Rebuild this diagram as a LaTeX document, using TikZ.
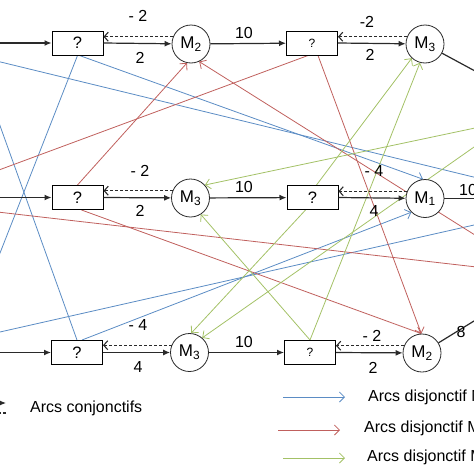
\documentclass[tikz,border=0pt]{standalone}
\usepackage{fontspec}
\setmainfont{Liberation Sans}
\usetikzlibrary{arrows.meta,backgrounds}
\definecolor{cblue}{HTML}{5B8CC4}
\definecolor{cred}{HTML}{C0605D}
\definecolor{cgreen}{HTML}{A3C166}
\definecolor{cline}{HTML}{2A2A2A}
\begin{document}
\begin{tikzpicture}[x=1pt,y=-1pt,
  op/.style={draw=black, line width=1pt, fill=white, minimum width=51pt, minimum height=24pt, inner sep=0pt, font=\fontsize{16.5}{16.5}\selectfont},
  opsmall/.style={op, font=\fontsize{12}{12}\selectfont},
  mach/.style={circle, draw=cline, line width=0.8pt, fill=white, minimum size=38pt, inner sep=0pt, font=\fontsize{17}{17}\selectfont},
  conj/.style={draw=cline, line width=1.2pt, -{Latex[length=7pt,width=6pt]}},
  back/.style={draw=cline, line width=1.1pt, dash pattern=on 3pt off 2pt, -{Straight Barb[length=4pt,width=9pt]}},
  lab/.style={font=\fontsize{16}{16}\selectfont, inner sep=0pt},
  leg/.style={font=\fontsize{16}{16}\selectfont, inner sep=0pt, anchor=west},
  dis/.style={line width=0.8pt},
  disarr/.style={dis, -{Straight Barb[length=5pt,width=10pt]}},
]
\useasboundingbox (0,0) rectangle (474,474);
\clip (0,0) rectangle (474,474);

% operations
\node[op] (B11) at (77.5,43) {?};
\node[mach] (M2a) at (191,44) {M\textsubscript{2}};
\node[opsmall] (B12) at (312,43) {?};
\node[mach] (M3a) at (425,44) {M\textsubscript{3}};

\node[op] (B21) at (77.5,197.5) {?};
\node[mach] (M3b) at (190.5,198) {M\textsubscript{3}};
\node[op] (B22) at (312.5,197.5) {?};
\node[mach] (M1) at (425,198.5) {M\textsubscript{1}};

\node[op] (B31) at (77,352.5) {?};
\node[mach] (M3c) at (189.5,352.5) {M\textsubscript{3}};
\node[opsmall] (B32) at (310,352.5) {?};
\node[mach] (M2c) at (422,353) {M\textsubscript{2}};

% off-canvas ends
\coordinate (in1) at (-10,43);
\coordinate (in2) at (-10,197.5);
\coordinate (in3) at (-10,352.5);
\coordinate (out1) at (500,84.5);
\coordinate (out2) at (500,198.5);
\coordinate (out3) at (500,305);

% conjunctive arcs
\draw[conj] (in1) -- (B11);
\draw[conj] (B11.east) -- (M2a);
\draw[back] (M2a.158) -- (B11.east |- M2a.158);
\draw[conj] (M2a) -- (B12);
\draw[conj] (B12.east) -- (M3a);
\draw[back] (M3a.158) -- (B12.east |- M3a.158);
\draw[cline, line width=1.2pt] (M3a) -- (out1);

\draw[conj] (in2) -- (B21);
\draw[conj] (B21.east) -- (M3b);
\draw[back] (M3b.158) -- (B21.east |- M3b.158);
\draw[conj] (M3b) -- (B22);
\draw[conj] (B22.east) -- (M1);
\draw[back] (M1.158) -- (B22.east |- M1.158);
\draw[cline, line width=1.2pt] (M1) -- (out2);

\draw[conj] (in3) -- (B31);
\draw[conj] (B31.east) -- (M3c);
\draw[back] (M3c.158) -- (B31.east |- M3c.158);
\draw[conj] (M3c) -- (B32);
\draw[conj] (B32.east) -- (M2c);
\draw[back] (M2c.158) -- (B32.east |- M2c.158);
\draw[cline, line width=1.2pt] (M2c) -- (out3);

% labels
\node[lab] (t1) at (138,16) {- 2};
\node[lab] (t2) at (140,58) {2};
\node[lab] (t3) at (244,33) {10};
\node[lab] (t4) at (367,22) {-2};
\node[lab] (t5) at (370,55) {2};
\node[lab] (t6) at (140,171) {- 2};
\node[lab] (t7) at (140,211) {2};
\node[lab] (t8) at (244,187) {10};
\node[lab] (t9) at (374,171) {- 4};
\node[lab] (t10) at (374,211) {4};
\node[lab, anchor=west] (t11) at (459,190) {10};
\node[lab] (t12) at (138,325) {- 4};
\node[lab] (t13) at (138,367) {4};
\node[lab] (t14) at (244,342) {10};
\node[lab] (t15) at (372,336) {- 2};
\node[lab] (t16) at (373,368) {2};
\node[lab] (t17) at (461,332) {8};

% disjunctive arcs
\begin{pgfonlayer}{background}
\coordinate (bL1) at (-20,304);
\coordinate (bL2) at (-20,70);
\coordinate (bL4) at (-20,57);
\coordinate (bR4) at (494,182);
\coordinate (bL5) at (-20,336.5);
\coordinate (bR5) at (494,220.5);
\draw[dis, cblue] (B11.south) -- (bL1);
\draw[dis, cblue] (bL2) -- (B31.north);
\draw[disarr, cblue] ([xshift=2pt]B11.south) -- (M1.96);
\draw[dis, cblue] (bL4) -- (bR4);
\draw[dis, cblue] (bL5) -- (bR5);
\draw[disarr, cblue] ([xshift=5pt]B31.north) -- (M1.-135);

\coordinate (rL1) at (-20,177);
\coordinate (rR1) at (494,247);
\coordinate (rL2) at (-20,210);
\coordinate (rR2) at (494,269);
\draw[disarr, cred] (B21.north) -- (M2a.-102);
\draw[dis, cred] ([xshift=-4pt]B12.south) -- (rL1);
\draw[disarr, cred] (rR1) -- (M2a.-65);
\draw[disarr, cred] ([xshift=6pt]B12.south) -- (M2c.92);
\draw[disarr, cred] ([xshift=4pt]B21.south) -- (M2c.92);
\draw[dis, cred] (rL2) -- (rR2);

\coordinate (gR1) at (494,124);
\coordinate (gR2) at (494,133);
\draw[disarr, cgreen] ([xshift=4pt]B22.north) -- (M3a.-133);
\draw[disarr, cgreen] (B32.north) -- (M3a.-105);
\draw[disarr, cgreen] (B32.north) -- (M3b.-58);
\draw[disarr, cgreen] ([xshift=-7pt]B22.south) -- (M3c.85);
\draw[disarr, cgreen] (gR1) -- (M3b.42);
\draw[disarr, cgreen] (gR2) -- (M3c.49);
\end{pgfonlayer}

% legend
\coordinate (lc1) at (-20,403);
\coordinate (lc2) at (6,403);
\coordinate (lc3) at (6,413);
\coordinate (lc4) at (-20,413);
\draw[conj] (lc1) -- (lc2);
\draw[back] (lc3) -- (lc4);
\node[leg] (lgc) at (30,408) {Arcs conjonctifs};

\coordinate (lb1) at (283,397);
\coordinate (lb2) at (345,397);
\draw[disarr, cblue] (lb1) -- (lb2);
\node[leg] (lgb) at (368,397) {Arcs disjonctif M\textsubscript{1}};
\coordinate (lr1) at (278,430);
\coordinate (lr2) at (340,430);
\draw[disarr, cred] (lr1) -- (lr2);
\node[leg] (lgr) at (364,428) {Arcs disjonctif M\textsubscript{2}};
\coordinate (lg1) at (283,458);
\coordinate (lg2) at (345,458);
\draw[disarr, cgreen] (lg1) -- (lg2);
\node[leg] (lgg) at (367,457) {Arcs disjonctif M\textsubscript{3}};
\end{tikzpicture}
\end{document}
